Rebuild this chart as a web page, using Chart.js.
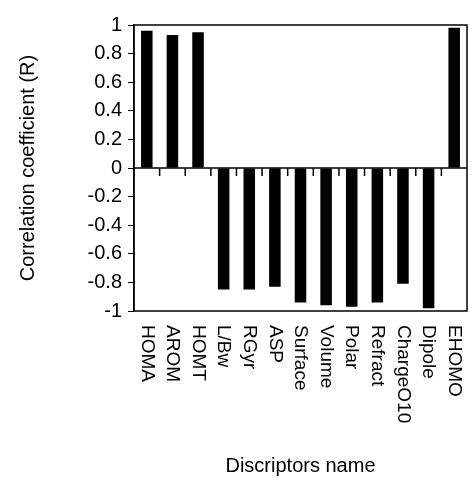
<!DOCTYPE html>
<html>
<head>
  <script src="https://cdn.jsdelivr.net/npm/chart.js"></script>
  <style>
    body { margin: 0; background: #fff; }
    #wrap { width: 474px; height: 501px; }
  </style>
</head>
<body>
  <div id="wrap"><canvas id="corrChart"></canvas></div>
  <script>
    const descriptors = ['HOMA', 'AROM', 'HOMT', 'L/Bw', 'RGyr', 'ASP', 'Surface', 'Volume',
      'Polar', 'Refract', 'ChargeO10', 'Dipole', 'EHOMO'];
    const correlations = [0.96, 0.93, 0.95, -0.85, -0.85, -0.83, -0.94, -0.96, -0.97, -0.94, -0.81, -0.98, 0.98];
    const yTicks = [1, 0.8, 0.6, 0.4, 0.2, 0, -0.2, -0.4, -0.6, -0.8, -1];

    const FONT = 'Liberation Sans, Arial, sans-serif';

    // frame, zero line, category ticks, rotated labels, x title
    const decorations = {
      id: 'decorations',
      afterDraw(chart) {
        const ctx = chart.ctx, a = chart.chartArea;
        const x = chart.scales.x, y = chart.scales.y;
        const y0 = y.getPixelForValue(0);
        ctx.save();
        ctx.strokeStyle = '#000';
        ctx.lineWidth = 1.5;
        ctx.strokeRect(a.left, a.top, a.right - a.left, a.bottom - a.top);
        ctx.beginPath();
        ctx.moveTo(a.left, y0); ctx.lineTo(a.right, y0);
        const step = (a.right - a.left) / descriptors.length;
        for (let i = 1; i < descriptors.length; i++) {
          const px = a.left + i * step;
          ctx.moveTo(px, y0); ctx.lineTo(px, y0 + 8);
        }
        ctx.stroke();
        ctx.fillStyle = '#000';
        ctx.font = '19px ' + FONT;
        ctx.textAlign = 'left';
        ctx.textBaseline = 'middle';
        descriptors.forEach((d, i) => {
          const px = x.getPixelForValue(i);
          ctx.save();
          ctx.translate(px, a.bottom + 14);
          ctx.rotate(Math.PI / 2);
          ctx.fillText(d, 0, 0);
          ctx.restore();
        });
        ctx.font = '20px ' + FONT;
        ctx.textAlign = 'center';
        ctx.fillText('Discriptors name', (a.left + a.right) / 2, 466);
        ctx.restore();
      }
    };

    new Chart(document.getElementById('corrChart'), {
      type: 'bar',
      data: {
        labels: descriptors,
        datasets: [{
          data: correlations,
          backgroundColor: '#000',
          barPercentage: 0.45,
          categoryPercentage: 1
        }]
      },
      options: {
        responsive: true,
        maintainAspectRatio: false,
        animation: false,
        layout: { padding: { top: 25, right: 7, bottom: 0, left: 12 } },
        plugins: { legend: { display: false }, tooltip: { enabled: false } },
        scales: {
          x: {
            grid: { display: false },
            border: { display: false },
            ticks: { display: false },
            afterFit(s) { s.height = 190; }
          },
          y: {
            min: -1, max: 1,
            afterBuildTicks(s) { s.ticks = yTicks.map(v => ({ value: v })); },
            afterFit(s) { s.width = 122; },
            grid: { drawOnChartArea: false, tickLength: 6, color: '#000' },
            border: { color: '#000', width: 1.5 },
            ticks: { color: '#000', font: { family: FONT, size: 20 }, padding: 6,
              callback: v => String(Math.round(v * 10) / 10) },
            title: { display: true, text: 'Correlation coefficient (R)', color: '#000',
              font: { family: FONT, size: 20 }, padding: { bottom: 8 } }
          }
        }
      },
      plugins: [decorations]
    });
  </script>
</body>
</html>
